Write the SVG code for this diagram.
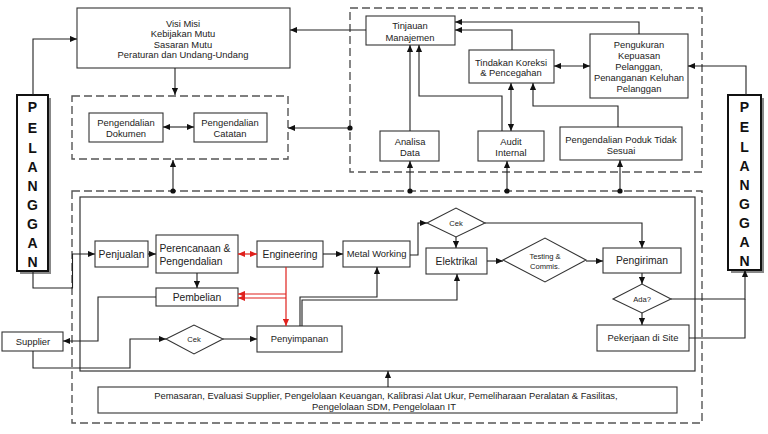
<svg xmlns="http://www.w3.org/2000/svg" width="768" height="434" viewBox="0 0 768 434">
<defs>
<marker id="a" viewBox="0 0 8 8" refX="8" refY="4" markerWidth="7" markerHeight="7" markerUnits="userSpaceOnUse" orient="auto-start-reverse"><path d="M0,0.5 L8,4 L0,7.5 z" fill="#111"/></marker>
<marker id="r" viewBox="0 0 8 8" refX="8" refY="4" markerWidth="7" markerHeight="7" markerUnits="userSpaceOnUse" orient="auto-start-reverse"><path d="M0,0.5 L8,4 L0,7.5 z" fill="#e0201c"/></marker>
<style>
.b{fill:#fff;stroke:#333;stroke-width:1.1}
.d{fill:none;stroke:#555;stroke-width:1.4;stroke-dasharray:8,4}
.c{fill:none;stroke:#222;stroke-width:1.1}
.cr{fill:none;stroke:#e0201c;stroke-width:1.2}
.e{marker-end:url(#a)}
.s{marker-start:url(#a)}
.t{font-family:"Liberation Sans",Arial,sans-serif;font-size:9.4px;fill:#222;text-anchor:middle}
.m{font-family:"Liberation Sans",Arial,sans-serif;font-size:10.3px;fill:#222;text-anchor:middle}
.sm{font-family:"Liberation Sans",Arial,sans-serif;font-size:7.6px;fill:#222;text-anchor:middle}
.p{font-family:"Liberation Sans",Arial,sans-serif;font-size:14px;font-weight:bold;fill:#111;text-anchor:middle}
.pb{fill:#fff;stroke:#111;stroke-width:2}
.sh{fill:#888}
.dot{fill:#111}
</style>
</defs>
<rect width="768" height="434" fill="#fff"/>

<g id="group-dashed">
<rect class="d" x="350" y="8" width="352" height="164"/>
<rect class="d" x="72" y="96" width="216" height="63"/>
<rect class="d" x="72" y="191" width="630" height="232"/>
<rect x="80" y="197" width="615" height="174" fill="none" stroke="#333" stroke-width="1.2"/>
</g>

<g id="visi">
<rect class="b" x="77" y="8" width="213" height="60"/>
<text class="t" x="183" y="26.5">Visi Misi</text>
<text class="t" x="183" y="37">Kebijakan Mutu</text>
<text class="t" x="183" y="47.5">Sasaran Mutu</text>
<text class="t" x="183" y="58">Peraturan dan Undang-Undang</text>
</g>
<g id="dokumen">
<rect class="b" x="89" y="113" width="74" height="29"/>
<text class="t" x="126" y="125.5">Pengendalian</text>
<text class="t" x="126" y="136.5">Dokumen</text>
</g>
<g id="catatan">
<rect class="b" x="194" y="113" width="73" height="29"/>
<text class="t" x="230" y="125.5">Pengendalian</text>
<text class="t" x="230" y="136.5">Catatan</text>
</g>
<g id="tinjauan">
<rect class="b" x="366" y="16" width="89" height="29"/>
<text class="t" x="410" y="28.5">Tinjauan</text>
<text class="t" x="410" y="40.5">Manajemen</text>
</g>
<g id="tindakan">
<rect class="b" x="469" y="50" width="85" height="33"/>
<text class="t" x="511" y="65.5">Tindakan Koreksi</text>
<text class="t" x="511" y="76">&amp; Pencegahan</text>
</g>
<g id="pengukuran">
<rect class="b" x="590" y="34" width="98" height="64"/>
<text class="t" x="639" y="47.5">Pengukuran</text>
<text class="t" x="639" y="58.5">Kepuasan</text>
<text class="t" x="639" y="69.5">Pelanggan,</text>
<text class="t" x="639" y="80.5">Penanganan Keluhan</text>
<text class="t" x="639" y="91.5">Pelanggan</text>
</g>
<g id="analisa">
<rect class="b" x="380" y="131" width="59" height="30"/>
<text class="t" x="410" y="144.5">Analisa</text>
<text class="t" x="410" y="155.5">Data</text>
</g>
<g id="audit">
<rect class="b" x="478" y="131" width="66" height="30"/>
<text class="t" x="511" y="144.5">Audit</text>
<text class="t" x="511" y="155.5">Internal</text>
</g>
<g id="ppts">
<rect class="b" x="560" y="127" width="122" height="33"/>
<text class="t" x="621" y="142.5">Pengendalian Poduk Tidak</text>
<text class="t" x="621" y="153.5">Sesuai</text>
</g>

<g id="pelanggan-left">
<rect class="sh" x="20" y="98" width="31" height="176"/>
<rect class="pb" x="17" y="95" width="31" height="176"/>
<text class="p" x="32.5" y="112.3">P</text>
<text class="p" x="32.5" y="132.7">E</text>
<text class="p" x="32.5" y="153.3">L</text>
<text class="p" x="32.5" y="172.3">A</text>
<text class="p" x="32.5" y="191">N</text>
<text class="p" x="32.5" y="210">G</text>
<text class="p" x="32.5" y="229.3">G</text>
<text class="p" x="32.5" y="248.3">A</text>
<text class="p" x="32.5" y="266.7">N</text>
</g>
<g id="pelanggan-right">
<rect class="sh" x="731" y="98" width="33" height="175"/>
<rect class="pb" x="728" y="95" width="33" height="175"/>
<text class="p" x="744.5" y="112">P</text>
<text class="p" x="744.5" y="132">E</text>
<text class="p" x="744.5" y="152">L</text>
<text class="p" x="744.5" y="171">A</text>
<text class="p" x="744.5" y="190">N</text>
<text class="p" x="744.5" y="209">G</text>
<text class="p" x="744.5" y="228">G</text>
<text class="p" x="744.5" y="247">A</text>
<text class="p" x="744.5" y="265.5">N</text>
</g>

<g id="penjualan">
<rect class="b" x="95" y="241" width="53" height="26"/>
<text class="m" x="121.5" y="257.6">Penjualan</text>
</g>
<g id="perencanaan">
<rect class="b" x="156" y="235" width="82" height="38"/>
<text class="m" x="159.5" y="252" style="text-anchor:start">Perencanaan &amp;</text>
<text class="m" x="159.5" y="264.5" style="text-anchor:start">Pengendalian</text>
</g>
<g id="engineering">
<rect class="b" x="257" y="241" width="66" height="26"/>
<text class="m" x="290" y="257.6">Engineering</text>
</g>
<g id="metal">
<rect class="b" x="343" y="241" width="67" height="26"/>
<text class="t" x="376.5" y="257.3">Metal Working</text>
</g>
<g id="cek1">
<polygon class="b" points="427,223 456,208 485,223 456,237"/>
<text class="sm" x="456" y="225.6">Cek</text>
</g>
<g id="elektrikal">
<rect class="b" x="426" y="248" width="61" height="26"/>
<text class="m" x="456.5" y="264.6">Elektrikal</text>
</g>
<g id="testing">
<polygon class="b" points="503,260 545,238 586,260 545,282"/>
<text class="sm" x="545" y="258.5">Testing &amp;</text>
<text class="sm" x="545" y="268.5">Commis.</text>
</g>
<g id="pengiriman">
<rect class="b" x="603" y="248" width="78" height="25"/>
<text class="m" x="642" y="264.3">Pengiriman</text>
</g>
<g id="ada">
<polygon class="b" points="613,299 642,284 671,299 642,313"/>
<text class="sm" x="642" y="301.6">Ada?</text>
</g>
<g id="pekerjaan">
<rect class="b" x="597" y="325" width="92" height="26"/>
<text class="t" x="643" y="341.3">Pekerjaan di Site</text>
</g>
<g id="pembelian">
<rect class="b" x="156" y="288" width="82" height="18"/>
<text class="m" x="197" y="300.6">Pembelian</text>
</g>
<g id="supplier">
<rect class="b" x="2" y="332" width="61" height="19"/>
<text class="t" x="33" y="344.6">Supplier</text>
</g>
<g id="cek2">
<polygon class="b" points="166,339 194,325 223,339 194,354"/>
<text class="sm" x="194" y="341.8">Cek</text>
</g>
<g id="penyimpanan">
<rect class="b" x="257" y="326" width="85" height="26"/>
<text class="t" x="299.5" y="342.3">Penyimpanan</text>
</g>
<g id="pendukung">
<rect class="b" x="98" y="387" width="579" height="26"/>
<text class="t" x="386" y="399.2">Pemasaran, Evaluasi Supplier, Pengelolaan Keuangan, Kalibrasi Alat Ukur, Pemeliharaan Peralatan &amp; Fasilitas,</text>
<text class="t" x="384" y="410">Pengelolaan SDM, Pengelolaan IT</text>
</g>

<g id="connectors">
<path class="c e" d="M33,95 V39 H77"/>
<path class="c e" d="M366,30 H290"/>
<path class="c e" d="M175,68 V95"/>
<path class="c e s" d="M163,127 H194"/>
<path class="c e" d="M350,128 H288"/>
<path class="c e" d="M173,191 V160"/>
<path class="c e" d="M410,191 V161"/>
<path class="c e" d="M507,191 V161"/>
<path class="c e" d="M620,191 V160"/>
<path class="c e" d="M410,131 V45"/>
<path class="c e" d="M502,131 V96 H419 V45"/>
<path class="c e s" d="M511,83 V131"/>
<path class="c e" d="M618,127 V106 H533 V83"/>
<path class="c e" d="M639,34 V22 H455"/>
<path class="c e" d="M512,50 V30 H455"/>
<path class="c e s" d="M554,66 H590"/>
<path class="c e" d="M746,95 V66 H688"/>
<path class="c e" d="M33,271 V288 H72.5 V254 H95"/>
<path class="c e" d="M148,254 H156"/>
<path class="c e" d="M323,254 H343"/>
<path class="c e" d="M410,255 H418 V223 H427"/>
<path class="c e" d="M456,237 V248"/>
<path class="c e" d="M485,223 H642 V248"/>
<path class="c e" d="M487,261 H503"/>
<path class="c e" d="M586,261 H603"/>
<path class="c e" d="M642,273 V284"/>
<path class="c e" d="M642,313 V325"/>
<path class="c e" d="M671,299 H745 V270"/>
<path class="c" d="M689,338 H745 V299"/>
<path class="c e" d="M197,273 V288"/>
<path class="c e" d="M156,297 H98 V341 H63"/>
<path class="c e" d="M33,351 V368 H130 V339 H166"/>
<path class="c e" d="M223,339 H257"/>
<path class="c e" d="M300,326 V297 H377 V267"/>
<path class="c e" d="M302,326 V300 H457 V274"/>
<path class="c e" d="M388,387 V371"/>
<path class="cr" d="M238,254 H257" marker-start="url(#r)" marker-end="url(#r)"/>
<path class="cr" d="M286,267 V326" marker-end="url(#r)"/>
<path class="cr" d="M286,294 H238" marker-end="url(#r)"/>
<path class="cr" d="M286,298 H238" marker-end="url(#r)"/>
<circle class="dot" cx="350" cy="128" r="2.6"/>
<circle class="dot" cx="173" cy="191" r="2.6"/>
<circle class="dot" cx="410" cy="191" r="2.6"/>
<circle class="dot" cx="507" cy="191" r="2.6"/>
<circle class="dot" cx="620" cy="191" r="2.6"/>
</g>
</svg>
